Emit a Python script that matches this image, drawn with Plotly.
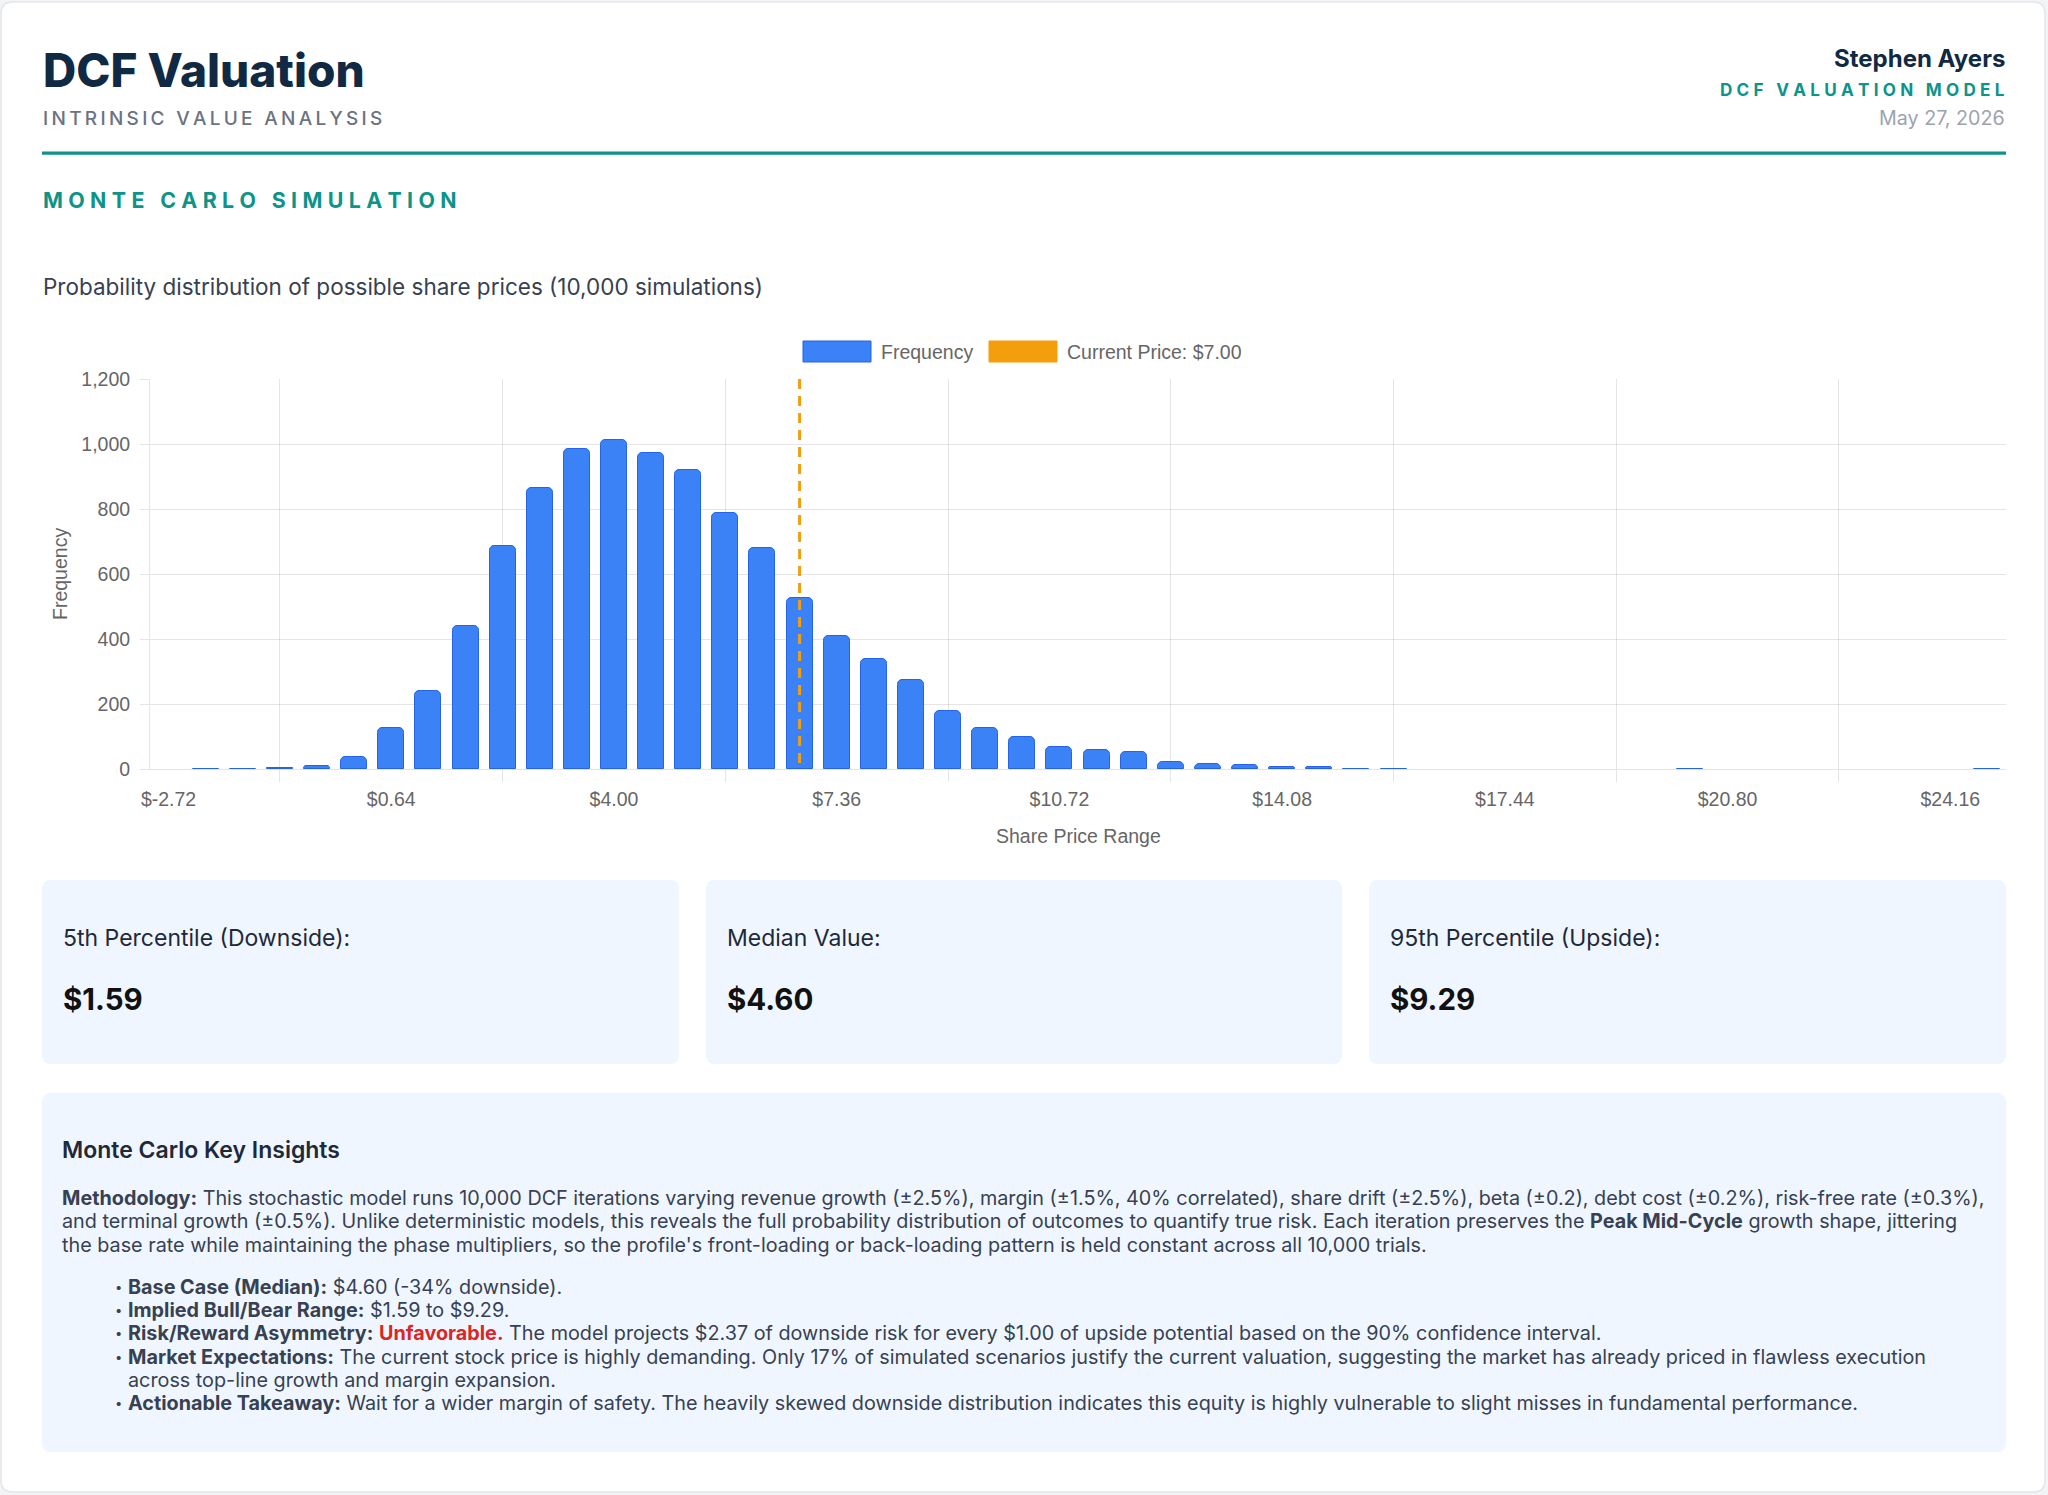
import plotly.graph_objects as go

# ---------------- data ----------------
bin_centers = [-2.72, -2.16, -1.60, -1.04, -0.48, 0.08, 0.64, 1.20, 1.76, 2.32,
               2.88, 3.44, 4.00, 4.56, 5.12, 5.68, 6.24, 6.80, 7.36, 7.92,
               8.48, 9.04, 9.60, 10.16, 10.72, 11.28, 11.84, 12.40, 12.96, 13.52,
               14.08, 14.64, 15.20, 15.76, 16.32, 16.88, 17.44, 18.00, 18.56, 19.12,
               19.68, 20.24, 20.80, 21.36, 21.92, 22.48, 23.04, 23.60, 24.16, 24.72]
frequency = [0, 1, 1, 3, 10, 37, 125, 241, 441, 685,
             864, 984, 1011, 973, 919, 787, 680, 525, 408, 337,
             274, 178, 126, 98, 69, 59, 53, 23, 16, 12,
             6, 6, 1, 1, 0, 0, 0, 0, 0, 0,
             0, 1, 0, 0, 0, 0, 0, 0, 0, 1]
y_ticks = [0, 200, 400, 600, 800, 1000, 1200]
CURRENT_PRICE = 7.00
BIN_STEP = 0.56

stat_labels = ["5th Percentile (Downside):", "Median Value:", "95th Percentile (Upside):"]
stat_values = ["$1.59", "$4.60", "$9.29"]

method_lines = [
    "<b>Methodology:</b> This stochastic model runs 10,000 DCF iterations varying revenue growth (±2.5%), margin (±1.5%, 40% correlated), share drift (±2.5%), beta (±0.2), debt cost (±0.2%), risk-free rate (±0.3%),",
    "and terminal growth (±0.5%). Unlike deterministic models, this reveals the full probability distribution of outcomes to quantify true risk. Each iteration preserves the <b>Peak Mid-Cycle</b> growth shape, jittering",
    "the base rate while maintaining the phase multipliers, so the profile's front-loading or back-loading pattern is held constant across all 10,000 trials.",
]
bullet_lines = [
    (True, "<b>Base Case (Median):</b> $4.60 (-34% downside)."),
    (True, "<b>Implied Bull/Bear Range:</b> $1.59 to $9.29."),
    (True, "<b>Risk/Reward Asymmetry:</b> <b><span style='color:#dc2626'>Unfavorable.</span></b> The model projects $2.37 of downside risk for every $1.00 of upside potential based on the 90% confidence interval."),
    (True, "<b>Market Expectations:</b> The current stock price is highly demanding. Only 17% of simulated scenarios justify the current valuation, suggesting the market has already priced in flawless execution"),
    (False, "across top-line growth and margin expansion."),
    (True, "<b>Actionable Takeaway:</b> Wait for a wider margin of safety. The heavily skewed downside distribution indicates this equity is highly vulnerable to slight misses in fundamental performance."),
]

# ---------------- geometry helpers ----------------
W, H = 2048, 1495
PL, PR, PT, PB = 150, 2006, 379, 769


def X(px):
    return (px - PL) / (PR - PL)


def Y(py):
    return (PB - py) / (PB - PT)


def rrect(x0, y0, x1, y1, r):
    pts = [
        f"M{X(x0 + r)},{Y(y0)}", f"L{X(x1 - r)},{Y(y0)}", f"Q{X(x1)},{Y(y0)} {X(x1)},{Y(y0 + r)}",
        f"L{X(x1)},{Y(y1 - r)}", f"Q{X(x1)},{Y(y1)} {X(x1 - r)},{Y(y1)}",
        f"L{X(x0 + r)},{Y(y1)}", f"Q{X(x0)},{Y(y1)} {X(x0)},{Y(y1 - r)}",
        f"L{X(x0)},{Y(y0 + r)}", f"Q{X(x0)},{Y(y0)} {X(x0 + r)},{Y(y0)}", "Z",
    ]
    return " ".join(pts)


def tracked(s, sep="\u2009"):
    return sep.join(s)


PAGE_FONT = "Inter, 'Noto Sans', sans-serif"
CHART_FONT = "'Liberation Sans', Arial, Helvetica, sans-serif"

shapes = []
annots = []


def text(x, y, s, size, color, weight=400, xanchor="left", family=PAGE_FONT, angle=0):
    annots.append(dict(x=X(x), y=Y(y), xref="paper", yref="paper", text=s, showarrow=False,
                       xanchor=xanchor, yanchor="middle", textangle=angle, borderpad=0,
                       font=dict(family=family, size=size, color=color, weight=weight)))


# page card
shapes.append(dict(type="path", xref="paper", yref="paper", layer="below",
                   path=rrect(1, 2, 2045, 1492, 12), fillcolor="#ffffff",
                   line=dict(color="#e3e6ea", width=1.5)))
# teal rule
shapes.append(dict(type="rect", xref="paper", yref="paper", layer="below",
                   x0=X(42), x1=X(2006), y0=Y(151.5), y1=Y(154.8),
                   fillcolor="#0d9488", line=dict(width=0)))
# stat cards
card_x = [(42, 679), (706, 1342), (1369, 2006)]
for (x0, x1), lab, val in zip(card_x, stat_labels, stat_values):
    shapes.append(dict(type="path", xref="paper", yref="paper", layer="below",
                       path=rrect(x0, 880, x1, 1064, 9), fillcolor="#eff6ff", line=dict(width=0)))
    text(x0 + 20, 938, lab, 23, "#1f2937")
    text(x0 + 20, 999, val, 29.5, "#111111", weight=700)
# insights box
shapes.append(dict(type="path", xref="paper", yref="paper", layer="below",
                   path=rrect(42, 1093, 2006, 1452, 9), fillcolor="#eff6ff", line=dict(width=0)))

# header texts
text(42, 70.5, "DCF Valuation", 46, "#102a43", weight=800)
text(42, 118.5, tracked("INTRINSIC VALUE ANALYSIS"), 19, "#6b7280", weight=500)
text(2006, 58.5, "Stephen Ayers", 24, "#102a43", weight=700, xanchor="right")
text(2006, 89.7, tracked("DCF VALUATION MODEL", "\u2005"), 17.1, "#0d9488", weight=700, xanchor="right")
text(2006, 118.2, "May 27, 2026", 19.7, "#9ca3af", xanchor="right")
text(42, 200, tracked("MONTE CARLO SIMULATION", "\u2005"), 21.4, "#0d9488", weight=700)
text(42, 286.5, "Probability distribution of possible share prices (10,000 simulations)", 22.5, "#374151")

# insights text
BODY = 19.8
text(61, 1150, "Monte Carlo Key Insights", 23, "#1f2937", weight=600)
for i, ln in enumerate(method_lines):
    text(61, 1198 + i * 23.3, ln, BODY, "#374151")
for i, (has_bullet, ln) in enumerate(bullet_lines):
    yy = 1287 + i * 23.2
    if has_bullet:
        text(114, yy, "•", 13, "#374151")
    text(127, yy, ln, BODY, "#374151")

# custom legend
current_label = f"Current Price: ${CURRENT_PRICE:.2f}"
shapes.append(dict(type="rect", xref="paper", yref="paper", x0=X(803), x1=X(871), y0=Y(362), y1=Y(341),
                   fillcolor="#3b82f6", line=dict(color="#2563eb", width=1)))
text(880, 352, "Frequency", 19.5, "#666666", family=CHART_FONT)
shapes.append(dict(type="rect", xref="paper", yref="paper", x0=X(989), x1=X(1057), y0=Y(362), y1=Y(341),
                   fillcolor="#f59e0b", line=dict(color="#f59e0b", width=1)))
text(1066, 352, current_label, 19.5, "#666666", family=CHART_FONT)

# axis titles
text(60, (PT + PB) / 2, "Frequency", 19.5, "#666666", family=CHART_FONT, xanchor="center", angle=-90)
text((PL + PR) / 2, 836, "Share Price Range", 19.5, "#666666", family=CHART_FONT, xanchor="center")

# ---------------- traces ----------------
fig = go.Figure()
fig.add_trace(go.Bar(
    x=bin_centers, y=frequency, width=BIN_STEP * 0.70,
    marker=dict(color="#3b82f6",
                line=dict(color="#2563eb", width=[1 if v > 0 else 0 for v in frequency]),
                cornerradius=5),
    showlegend=False, hoverinfo="skip"))
cp_x = min(bin_centers, key=lambda v: abs(v - CURRENT_PRICE))
fig.add_trace(go.Scatter(
    x=[cp_x, cp_x], y=[y_ticks[-1], y_ticks[0]], mode="lines",
    line=dict(color="#f59e0b", width=3, dash="10px,7px"),
    showlegend=False, hoverinfo="skip"))

grid = "rgba(0,0,0,0.1)"
fig.update_layout(
    width=W, height=H, autosize=False,
    margin=dict(l=PL, r=W - PR, t=PT, b=H - PB, pad=0),
    paper_bgcolor="#f3f4f6", plot_bgcolor="rgba(0,0,0,0)",
    shapes=shapes, annotations=annots, showlegend=False,
    bargap=0,
    xaxis=dict(
        range=[bin_centers[0] - BIN_STEP / 2, bin_centers[-1] + BIN_STEP / 2],
        tickmode="array", tickvals=bin_centers[::6],
        ticktext=[f"${v:.2f}" for v in bin_centers[::6]],
        showgrid=False, zeroline=False,
        ticks="outside", ticklen=12, tickcolor="rgba(0,0,0,0)", ticklabelstandoff=1,
        minor=dict(tickmode="array", tickvals=bin_centers[3::6], showgrid=True,
                   gridcolor=grid, gridwidth=1, ticks="outside", ticklen=12, tickcolor=grid),
        showline=True, linecolor=grid, linewidth=1,
        tickfont=dict(family=CHART_FONT, size=19.5, color="#666666"),
        fixedrange=True,
    ),
    yaxis=dict(
        range=[y_ticks[0], y_ticks[-1]], tickmode="array", tickvals=y_ticks,
        ticktext=[f"{v:,}" for v in y_ticks],
        showgrid=True, gridcolor=grid, gridwidth=1, zeroline=False,
        ticks="outside", ticklen=9, tickcolor=grid, ticklabelstandoff=6,
        showline=True, linecolor=grid, linewidth=1,
        tickfont=dict(family=CHART_FONT, size=19.5, color="#666666"),
        fixedrange=True,
    ),
)

fig.write_html("out.html")
